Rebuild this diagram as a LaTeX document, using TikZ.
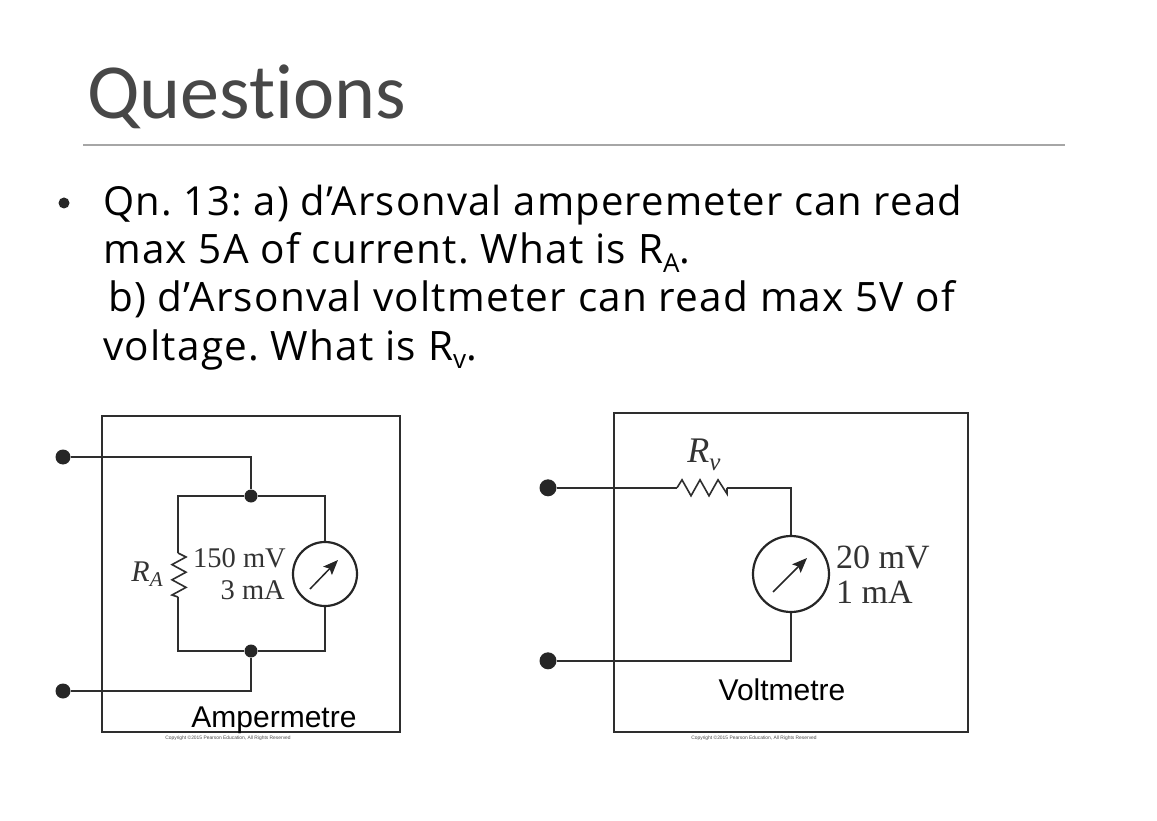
\documentclass[tikz,border=0pt]{standalone}
\usepackage{fontspec}
\setmainfont{Liberation Serif}
\newfontfamily\titlefont[Ligatures=NoCommon]{Carlito}
\newfontfamily\bodyfont[LetterSpace=3]{Open Sans}
\newfontfamily\capfont{Liberation Sans}
\usetikzlibrary{arrows.meta}
\definecolor{wirecol}{HTML}{2E2E2E}
\tikzset{
    wire/.style={draw=wirecol,line width=1.6pt},
    framebox/.style={draw=wirecol,line width=1.8pt},
    terminal/.style={circle,fill=black!85,inner sep=0pt,minimum size=#1},
    meter/.style={circle,draw=black!85,line width=2.2pt,fill=white,inner sep=0pt,minimum size=#1},
    needle/.style={draw=black!85,line width=1.5pt,-{Stealth[length=15pt,width=12pt,inset=3pt]}},
    bodyline/.style={anchor=base west,inner sep=0pt,font=\frenchspacing\bodyfont\fontsize{40.5}{48}\selectfont},
    vallabel/.style={inner sep=0pt,text=black!80,font=\fontsize{28.5}{34}\selectfont},
    biglabel/.style={inner sep=0pt,text=black!80,font=\fontsize{34}{38}\selectfont},
    caplabel/.style={inner sep=0pt,font=\capfont\fontsize{30}{34}\selectfont},
    copyline/.style={inner sep=0pt,text=black!70,font=\capfont\fontsize{4.9}{6}\selectfont}
}
\newcommand{\lowtext}[1]{\raisebox{-0.4ex}{\fontsize{26}{29}\selectfont #1}}
\begin{document}
\begin{tikzpicture}[x=1pt,y=-1pt]
    \useasboundingbox (0,0) rectangle (1157,821);
    \fill[white] (0,0) rectangle (1157,821);
    % heading
    \node[anchor=base west,inner sep=0pt,text=black!72,font=\titlefont\fontsize{78}{82}\selectfont] (title) at (87,119) {Questions};
    \coordinate (ruleL) at (83,145);
    \coordinate (ruleR) at (1065,145);
    \draw[black!35,line width=1.2pt] (ruleL) -- (ruleR);
    % question text
    \node[circle,fill=black!85,inner sep=0pt,minimum size=11pt] (bullet) at (64,203) {};
    \node[bodyline,font=\frenchspacing\bodyfont\fontsize{40}{48}\selectfont] (qa) at (103,216) {Qn. 13: a) d’Arsonval amperemeter can read};
    \node[bodyline] (qb) at (103,264) {max 5A of current. What is R\lowtext{A}.};
    \node[bodyline] (qc) at (108,312) {b) d’Arsonval voltmeter can read max 5V of};
    \node[bodyline] (qd) at (103,360) {voltage. What is R\lowtext{v}.};

    % ampermetre
    \node[framebox,minimum width=298pt,minimum height=316pt,inner sep=0pt] (boxA) at (251,574) {};
    \node[terminal=15pt] (inA) at (63,457) {};
    \node[terminal=15pt] (outA) at (63,691) {};
    \node[terminal=13pt] (topA) at (251,496) {};
    \node[terminal=13pt] (botA) at (251,651) {};
    \node[meter=64pt] (meterA) at (325,574) {};
    \coordinate (resAt) at (178,553);
    \coordinate (resAb) at (178,597);
    \draw[wire] (inA) -| (topA);
    \draw[wire] (outA) -| (botA);
    \draw[wire] (topA) -| (resAt);
    \draw[wire] (botA) -| (resAb);
    \draw[wire] (topA) -| (meterA);
    \draw[wire] (botA) -| (meterA);
    \draw[wire] (resAt) -- ++(8,4) -- ++(-14,7.6) -- ++(14,7.6) -- ++(-14,7.6) -- ++(14,7.6) -- ++(-14,7.6) -- (resAb);
    \coordinate (needleA) at (310,589);
    \coordinate (tipA) at (338,560);
    \draw[needle] (needleA) -- (tipA);
    \node[vallabel,font=\itshape\fontsize{30}{36}\selectfont] (lblRA) at (147,574) {R\raisebox{-0.4ex}{\fontsize{21}{24}\selectfont A}};
    \node[vallabel,anchor=east] (lblVA) at (286,558) {150 mV};
    \node[vallabel,anchor=east] (lblIA) at (285,590) {3 mA};
    \node[caplabel] (capA) at (274,720) {Ampermetre};
    \node[copyline] (copyA) at (228,738) {Copyright ©2015 Pearson Education, All Rights Reserved};

    % voltmetre
    \node[framebox,minimum width=354pt,minimum height=319pt,inner sep=0pt] (boxV) at (791,572.5) {};
    \node[terminal=17pt] (inV) at (548,487.8) {};
    \node[terminal=17pt] (outV) at (548,660.8) {};
    \node[meter=76pt] (meterV) at (791,574) {};
    \coordinate (resVl) at (677,487.8);
    \coordinate (resVr) at (727,487.8);
    \coordinate (cornerV) at (791,660.8);
    \draw[wire] (inV) -- (resVl);
    \draw[wire] (resVl) -- ++(5,-8) -- ++(9,16) -- ++(9,-16) -- ++(9,16) -- ++(9,-16) -- ++(9,14) -- (resVr);
    \draw[wire] (resVr) -| (meterV);
    \draw[wire] (meterV) -- (cornerV) -- (outV);
    \coordinate (needleV) at (773,592);
    \coordinate (tipV) at (807,558);
    \draw[needle] (needleV) -- (tipV);
    \node[biglabel,font=\itshape\fontsize{36}{40}\selectfont] (lblRV) at (704,455) {R\raisebox{-0.5ex}{\fontsize{25}{28}\selectfont v}};
    \node[biglabel,anchor=west] (lblVV) at (836,557) {20 mV};
    \node[biglabel,anchor=west] (lblIV) at (836,592) {1 mA};
    \node[caplabel] (capV) at (782,690) {Voltmetre};
    \node[copyline] (copyV) at (754,738) {Copyright ©2015 Pearson Education, All Rights Reserved};
\end{tikzpicture}
\end{document}
